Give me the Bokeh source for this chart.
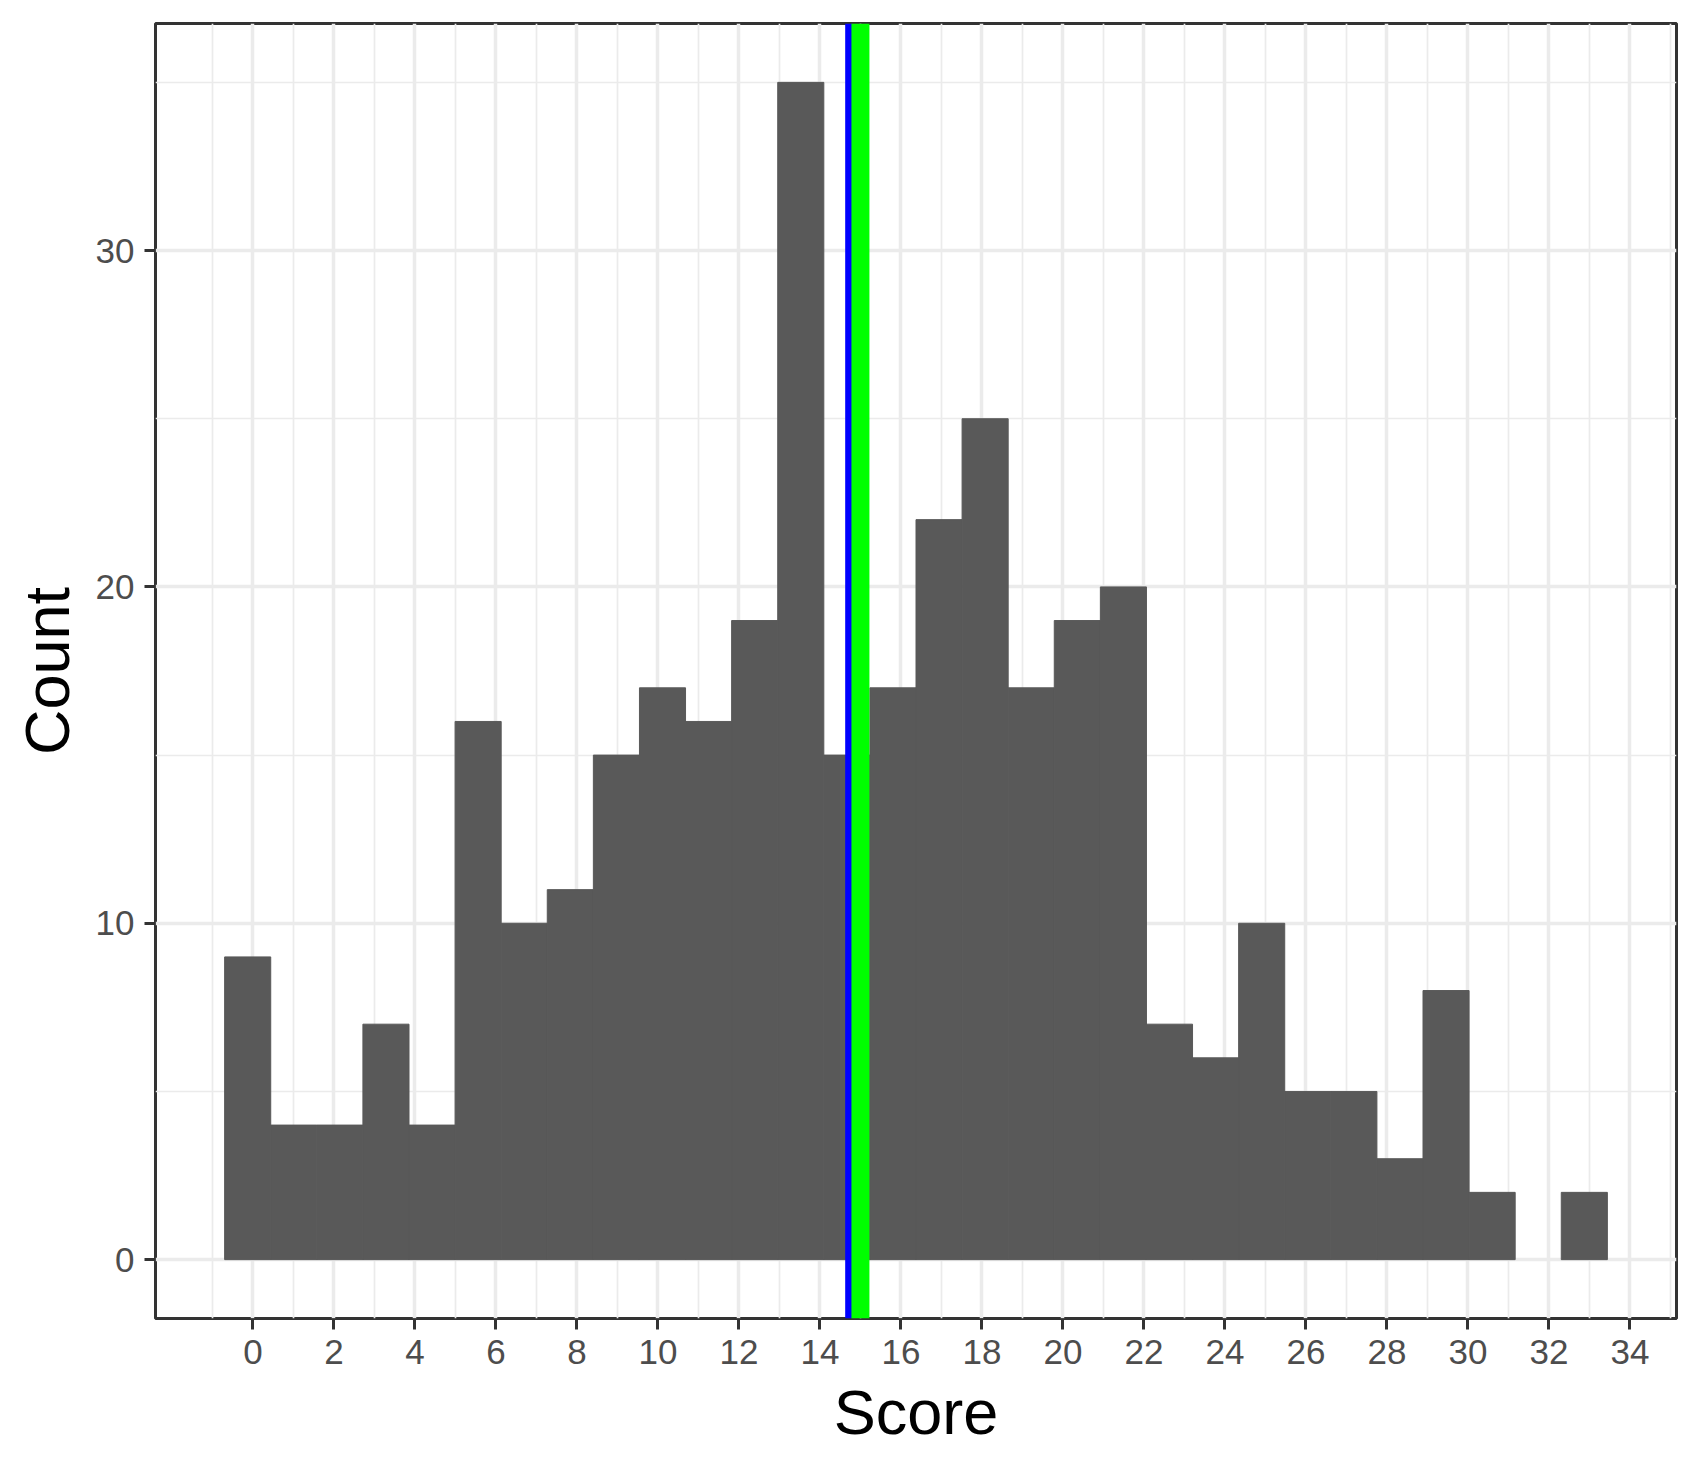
import numpy as np
from bokeh.plotting import figure
from bokeh.models import Span, FixedTicker, Range1d, ColumnDataSource
from bokeh.embed import file_html
from bokeh.resources import INLINE

# ---- data ----
counts = [9, 4, 4, 7, 4, 16, 10, 11, 15, 17, 16, 19, 35, 15, 17,
          22, 25, 17, 19, 20, 7, 6, 10, 5, 5, 3, 8, 2, 0, 2]
bin_first_left = -0.698
bin_width = 1.138
mean_score = 14.71
median_score = 15.0
x_ticks = list(range(0, 35, 2))
x_minor = list(range(-1, 36, 2))
y_ticks = [0, 10, 20, 30]
y_minor = [5, 15, 25, 35]

left = bin_first_left + bin_width * np.arange(len(counts))
right = left + bin_width
lo, hi = float(left[0]), float(right[-1])
xpad = 0.05 * (hi - lo)
ymax = max(counts)
ypad = 0.05 * ymax

src = ColumnDataSource(dict(
    left=left, right=right, top=counts,
    line_alpha=[1.0 if c > 0 else 0.0 for c in counts],
))

FONT = "Liberation Sans"

p = figure(frame_width=1521, frame_height=1295,
           min_border_left=155, min_border_top=23,
           min_border_right=12, min_border_bottom=122,
           x_range=Range1d(lo - xpad, hi + xpad),
           y_range=Range1d(-ypad, ymax + ypad),
           output_backend="svg", toolbar_location=None)

p.background_fill_color = "white"
p.border_fill_color = "white"
p.outline_line_color = "#333333"
p.outline_line_width = 3

p.quad(left="left", right="right", bottom=0, top="top", source=src,
       fill_color="#595959", line_color="#595959", line_width=1,
       line_alpha="line_alpha")

p.add_layout(Span(location=mean_score, dimension="height",
                  line_color="#0000FF", line_width=7))
p.add_layout(Span(location=median_score, dimension="height",
                  line_color="#00FF00", line_width=18))

p.xaxis.ticker = FixedTicker(ticks=x_ticks, minor_ticks=x_minor)
p.yaxis.ticker = FixedTicker(ticks=y_ticks, minor_ticks=y_minor)

for g in (p.xgrid, p.ygrid):
    g.grid_line_color = "#EBEBEB"
    g.grid_line_width = 3.5
    g.minor_grid_line_color = "#EBEBEB"
    g.minor_grid_line_width = 1.7

for ax in (p.xaxis, p.yaxis):
    ax.axis_line_color = None
    ax.major_tick_line_color = "#333333"
    ax.major_tick_line_width = 3
    ax.major_tick_out = 11
    ax.major_tick_in = 0
    ax.minor_tick_line_color = None
    ax.major_label_text_color = "#4D4D4D"
    ax.major_label_text_font = FONT
    ax.major_label_text_font_size = "35px"
    ax.major_label_standoff = 10
    ax.axis_label_text_font = FONT
    ax.axis_label_text_font_size = "63px"
    ax.axis_label_text_font_style = "normal"
    ax.axis_label_text_color = "black"

p.xaxis.axis_label = "Score"
p.yaxis.axis_label = "Count"
p.xaxis.axis_label_standoff = 10
p.yaxis.axis_label_standoff = 11

open("out.html", "w").write(file_html(p, INLINE))
